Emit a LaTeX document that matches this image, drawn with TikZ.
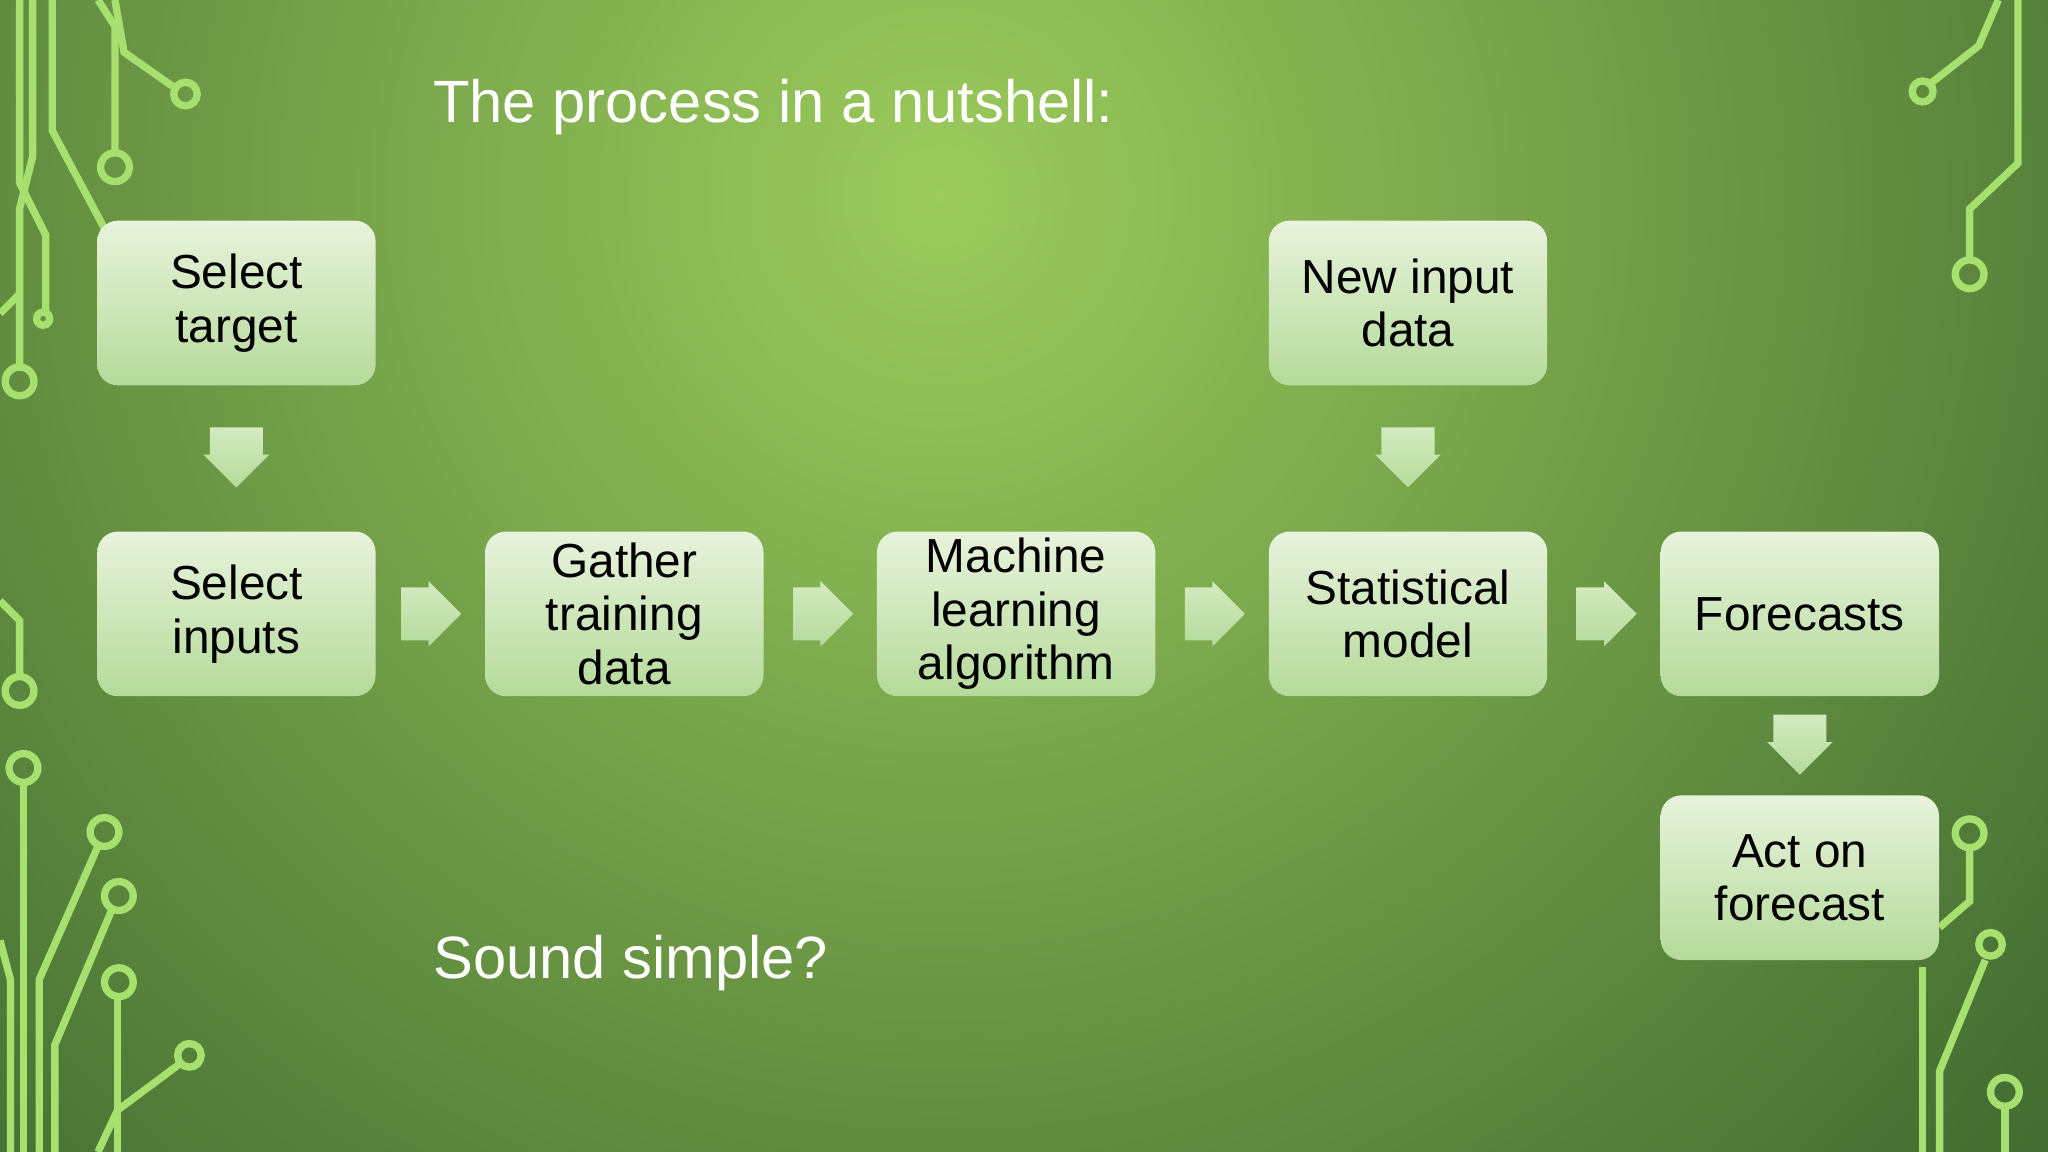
\documentclass[tikz,border=0pt]{standalone}
\usepackage{fontspec}
\setmainfont{Liberation Sans}
\usetikzlibrary{shapes.arrows}
\definecolor{bgl}{HTML}{9CCB5C}
\definecolor{bgd}{HTML}{163D1C}
\definecolor{boxt}{HTML}{E8F3DC}
\definecolor{boxb}{HTML}{B5DA9A}
\definecolor{arr}{HTML}{D2EBC0}
\definecolor{circ}{HTML}{A8E070}
\begin{document}
\begin{tikzpicture}[x=0.01cm,y=-0.01cm,
  box/.style={rounded corners=4.5pt,top color=boxt,bottom color=boxb,draw=none,
    minimum width=2.13cm, minimum height=1.26cm, align=center,
    font=\fontsize{10.4}{11.7}\selectfont, inner sep=0pt},
  rarr/.style={single arrow, top color=arr, bottom color=boxb, draw=none, minimum height=0.46cm, minimum width=0.5cm,
    single arrow head extend=0.02cm, inner sep=0.08cm},
  darr/.style={rarr, shape border rotate=270},
  ck/.style={draw=circ, line width=1.6pt},
  title/.style={text=white, font=\fontsize{13}{16}\selectfont, anchor=west, inner sep=0pt}]
\useasboundingbox (0,0) rectangle (1568,882);
\begin{scope}
\clip (0,0) rectangle (1568,882);
\fill[bgd] (0,0) rectangle (1568,882);
\shade[inner color=bgl, outer color=bgd] (720,150) circle (1650);
% circuit decorations left
\draw[ck] (15,0) -- (15,140) -- (35,180) -- (35,240);
\draw[ck] (33,244) circle (5);
\draw[ck] (40,0) -- (40,100) -- (80,175);
\draw[ck] (75,0) -- (88,20) -- (88,115); \draw[ck] (88,128) circle (11);
\draw[ck] (88,0) -- (95,40) -- (132,66); \draw[ck] (142,72) circle (9);
\draw[ck] (25,0) -- (25,120) -- (15,160) -- (15,280); \draw[ck] (15,292) circle (11);
\draw[ck] (0,240) -- (15,225);
\draw[ck] (0,460) -- (15,475) -- (15,516); \draw[ck] (15,529) circle (11);
\draw[ck] (18,600) -- (18,882); \draw[ck] (18,588) circle (11);
\draw[ck] (0,720) -- (8,750) -- (8,882);
\draw[ck] (30,882) -- (30,750) -- (75,648); \draw[ck] (80,637) circle (11);
\draw[ck] (42,882) -- (42,800) -- (85,698); \draw[ck] (91,686) circle (11);
\draw[ck] (90,765) -- (90,882); \draw[ck] (91,752) circle (11);
\draw[ck] (75,882) -- (90,850) -- (137,815); \draw[ck] (145,808) circle (9);
% right
\draw[ck] (1530,0) -- (1515,35) -- (1478,64); \draw[ck] (1472,70) circle (8);
\draw[ck] (1545,0) -- (1545,125) -- (1508,160) -- (1508,198); \draw[ck] (1508,210) circle (11);
\draw[ck] (1508,650) -- (1508,690) -- (1485,710); \draw[ck] (1508,638) circle (11);
\draw[ck] (1472,740) -- (1472,882);
\draw[ck] (1485,882) -- (1485,820) -- (1520,735); \draw[ck] (1524,723) circle (9);
\draw[ck] (1535,848) -- (1535,882); \draw[ck] (1535,836) circle (11);
\end{scope}
\node[title] (t1) at (331,82) {The process in a nutshell:};
\node[title] (t2) at (331,737) {Sound simple?};
\node[box] (st) at (181,232) {Select\\target};
\node[box] (si) at (181,470) {Select\\inputs};
\node[box] (gt) at (478,470) {Gather\\training\\data};
\node[box] (ml) at (778,470) {Machine\\learning\\algorithm};
\node[box] (sm) at (1078,470) {Statistical\\model};
\node[box] (fc) at (1378,470) {Forecasts};
\node[box] (ni) at (1078,232) {New input\\data};
\node[box] (af) at (1378,672) {Act on\\forecast};
\node[darr] (a1) at (181,340) {};
\node[darr] (a2) at (1078,340) {};
\node[darr] (a3) at (1378,560) {};
\node[rarr] (b1) at (320,470) {};
\node[rarr] (b2) at (620,470) {};
\node[rarr] (b3) at (920,470) {};
\node[rarr] (b4) at (1220,470) {};
\end{tikzpicture}
\end{document}
